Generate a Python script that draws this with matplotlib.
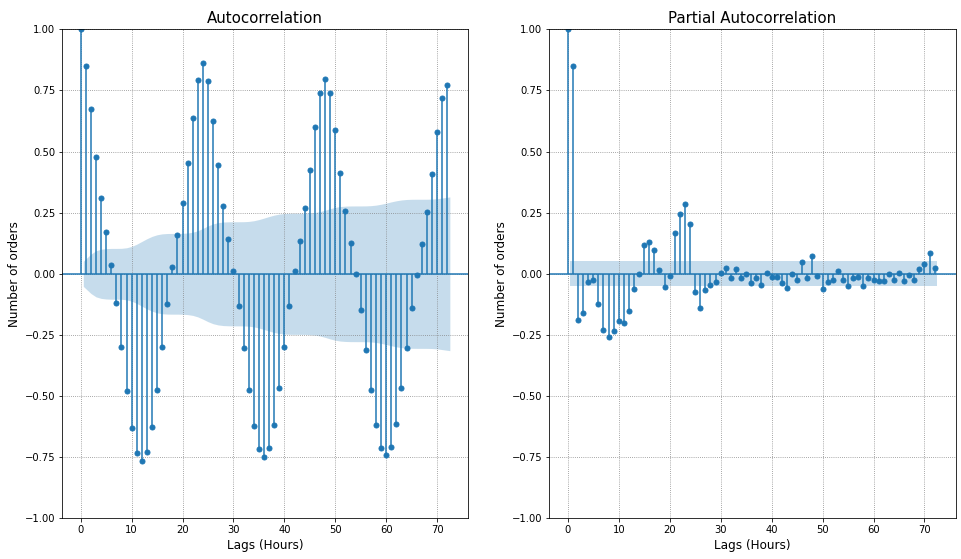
import numpy as np
import matplotlib
matplotlib.use('Agg')
import matplotlib.pyplot as plt

# lags 0..72 (hourly)
lags = np.arange(73)

# autocorrelation
acf_vals = [1.0, 0.851, 0.675, 0.478, 0.31, 0.171, 0.036, -0.12, -0.30, -0.481,
            -0.632, -0.731, -0.764, -0.727, -0.628, -0.477, -0.30, -0.124, 0.027, 0.159,
            0.29, 0.454, 0.638, 0.794, 0.863, 0.79, 0.626, 0.445, 0.277, 0.142,
            0.012, -0.132, -0.305, -0.477, -0.624, -0.718, -0.751, -0.714, -0.62, -0.468,
            -0.30, -0.132, 0.011, 0.134, 0.269, 0.425, 0.601, 0.738, 0.798, 0.738,
            0.589, 0.413, 0.257, 0.126, -0.001, -0.149, -0.313, -0.477, -0.62, -0.714,
            -0.743, -0.71, -0.616, -0.468, -0.305, -0.141, -0.005, 0.122, 0.253, 0.409,
            0.581, 0.72, 0.773]

# partial autocorrelation
pacf_vals = [1.0, 0.851, -0.19, -0.161, -0.034, -0.025, -0.124, -0.231, -0.258, -0.234,
             -0.194, -0.202, -0.153, -0.061, -0.001, 0.118, 0.131, 0.097, 0.015, -0.053,
             -0.01, 0.167, 0.245, 0.286, 0.204, -0.075, -0.141, -0.067, -0.046, -0.034,
             0.003, 0.023, -0.018, 0.019, -0.018, -0.001, -0.038, -0.018, -0.046, 0.004,
             -0.014, -0.014, -0.038, -0.059, -0.001, -0.026, 0.048, -0.018, 0.072, -0.01,
             -0.063, -0.034, -0.026, 0.011, -0.026, -0.05, -0.018, -0.014, -0.05, -0.018,
             -0.026, -0.03, -0.03, -0.001, -0.026, 0.003, -0.03, -0.005, -0.026, 0.019,
             0.04, 0.085, 0.023]

nobs = 1450  # estimated from the width of the confidence bands
z = 1.96

acf_arr = np.array(acf_vals)
pacf_arr = np.array(pacf_vals)

# Bartlett band for acf, constant band for pacf (as statsmodels does)
varacf = np.ones(len(acf_arr)) / nobs
varacf[0] = 0
varacf[1] = 1.0 / nobs
varacf[2:] *= 1 + 2 * np.cumsum(acf_arr[1:-1] ** 2)
acf_band = z * np.sqrt(varacf)
pacf_band = np.full(len(pacf_arr), z / np.sqrt(nobs))

fig = plt.figure(figsize=(961 / 72, 559 / 72), dpi=72)
ax1 = fig.add_axes([62.3 / 961, 40.7 / 559, 406 / 961, 489 / 559])
ax2 = fig.add_axes([549.3 / 961, 40.7 / 559, 406.4 / 961, 489 / 559])


def corr_plot(ax, vals, band, title):
    ax.vlines(lags, [0], vals, color='C0')
    ax.axhline(0, color='C0')
    ax.plot(lags, vals, marker='o', markersize=5, linestyle='None', color='C0')
    x = lags[1:].astype(float)
    x[0] -= 0.5
    x[-1] += 0.5
    ax.fill_between(x, -band[1:], band[1:], alpha=0.25, color='C0', linewidth=0)
    ax.set_ylim(-1, 1)
    ax.set_yticks(np.linspace(-1, 1, 9))
    ax.set_xticks(np.arange(0, 71, 10))
    ax.grid(True, linestyle=':', color='gray')
    ax.set_title(title, fontsize=15, pad=6)
    ax.set_xlabel('Lags (Hours)', fontsize=12)
    ax.set_ylabel('Number of orders', fontsize=12)


corr_plot(ax1, acf_arr, acf_band, 'Autocorrelation')
corr_plot(ax2, pacf_arr, pacf_band, 'Partial Autocorrelation')

fig.savefig('out.png', dpi=72)
